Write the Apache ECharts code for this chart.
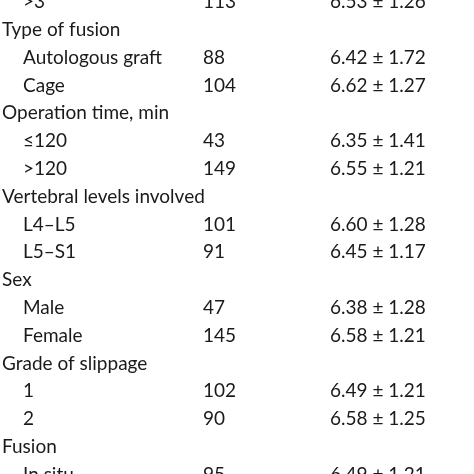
<!DOCTYPE html>
<html>
<head>
<meta charset="utf-8">
<script src="https://cdn.jsdelivr.net/npm/echarts@6/dist/echarts.min.js"></script>
<style>html,body{margin:0;background:#fff}#main{width:474px;height:474px}</style>
</head>
<body>
<div id="main"></div>
<script>
// table rows: label, indent (0 = group header), N, mean ± SD
const labels = ['>3', 'Type of fusion', 'Autologous graft', 'Cage', 'Operation time, min', '≤120', '>120',
  'Vertebral levels involved', 'L4–L5', 'L5–S1', 'Sex', 'Male', 'Female', 'Grade of slippage', '1', '2', 'Fusion', 'In situ'];
const isHeader = [0, 1, 0, 0, 1, 0, 0, 1, 0, 0, 1, 0, 0, 1, 0, 0, 1, 0];
const counts = ['113', '', '88', '104', '', '43', '149', '', '101', '91', '', '47', '145', '', '102', '90', '', '95'];
const scores = ['6.53 ± 1.26', '', '6.42 ± 1.72', '6.62 ± 1.27', '', '6.35 ± 1.41', '6.55 ± 1.21', '',
  '6.60 ± 1.28', '6.45 ± 1.17', '', '6.38 ± 1.28', '6.58 ± 1.21', '', '6.49 ± 1.21', '6.58 ± 1.25', '', '6.49 ± 1.21'];

const chart = echarts.init(document.getElementById('main'));
const font = '19px Lato, "Open Sans", sans-serif';
const rowH = 27.8, top0 = 2;
const elements = [];
labels.forEach(function (lab, i) {
  const y = top0 + i * rowH;
  const st = { fill: '#1a1a1a', font: font, verticalAlign: 'middle' };
  elements.push({ type: 'text', x: isHeader[i] ? 2 : 23, y: y, style: Object.assign({ text: lab }, st) });
  if (counts[i]) elements.push({ type: 'text', x: 203, y: y, style: Object.assign({ text: counts[i] }, st) });
  if (scores[i]) elements.push({ type: 'text', x: 330, y: y, style: Object.assign({ text: scores[i] }, st) });
});
chart.setOption({ backgroundColor: '#fff', animation: false, graphic: { elements: elements } });
</script>
</body>
</html>
